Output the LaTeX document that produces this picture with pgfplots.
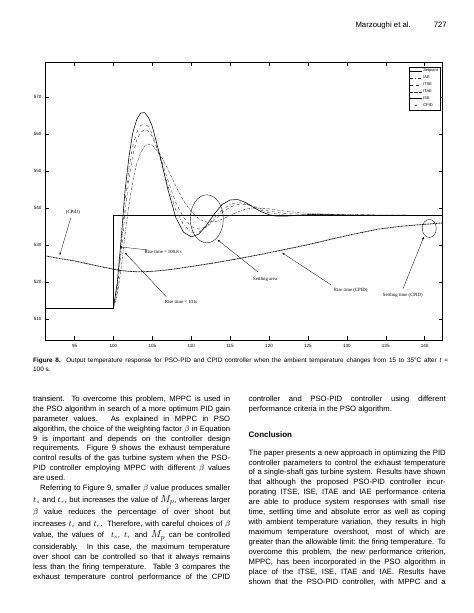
\documentclass[border=0pt]{standalone}
\usepackage{fontspec}
\setmainfont{Liberation Sans}
\newfontfamily\annofont{Liberation Serif}
\usepackage{pgfplots}
\pgfplotsset{compat=1.18}
\usetikzlibrary{arrows.meta}

% one justified line of body text: x, centre y (image px from top), text
\newcommand\jl[3]{\node[anchor=base west,inner sep=0pt,font=\fontsize{7.7}{9.9}\selectfont] at (#1,610.5-#2) {\hbox to 197bp{#3}};}
% plain (last) line
\newcommand\pl[3]{\node[anchor=base west,inner sep=0pt,font=\fontsize{7.7}{9.9}\selectfont] at (#1,610.5-#2) {#3};}
\newcommand\Mp{{\fontsize{10}{10}\selectfont$M_{p}$}}

\begin{document}
\begin{tikzpicture}[x=1bp,y=1bp]
\useasboundingbox (0,0) rectangle (474,613);

% running head
\node[anchor=base east,inner sep=0pt,font=\fontsize{7.8}{9}\selectfont] at (411,585) {Marzoughi et al.};
\node[anchor=base east,inner sep=0pt,font=\fontsize{7.8}{9}\selectfont] at (447,585) {727};

\begin{axis}[
    at={(45bp,272.5bp)}, anchor=south west,
    scale only axis, width=397.5bp, height=278.5bp,
    xmin=91.2, xmax=142.3, ymin=504.2, ymax=579.5,
    xtick={95,100,...,140}, ytick={510,520,...,570},
    tick align=inside, major tick length=4bp,
    axis line style={line width=0.5pt},
    tick style={black,line width=0.4pt},
    ticklabel style={font=\fontsize{4.6}{5}\selectfont},
    /pgf/number format/assume math mode=true,
    /pgf/number format/1000 sep={},
    legend style={at={(rel axis cs:0.994,0.983)}, anchor=north east,
        font=\fontsize{4}{4.5}\selectfont, draw=black, line width=0.3pt,
        inner sep=0.8pt, nodes={inner sep=1.3bp}},
    legend cell align=left,
    legend image code/.code={\draw[#1] (0cm,0cm) -- (0.4cm,0cm);},
]
\addplot[black,line width=0.45pt] coordinates {
    (91.2,513) (100,513) (100,538) (142.3,538)
};
\addlegendentry{Setpoint}

\addplot[black!80,line width=0.4pt,dash dot] coordinates {
    (100,513) (100.5,519) (101,530) (101.5,542) (102,551) (102.5,557)
    (103,560.5) (103.5,562.3) (104,562.8) (104.5,562) (105,560) (106,553.5)
    (107,546) (108,539.5) (109,535.5) (110,533.5) (111,533.5) (112,535)
    (113,537.5) (114,539.5) (115,541) (116,541.5) (117,541.2) (118,540.3)
    (119,539.4) (120,538.7) (122,538.1) (125,538.1) (130,538.1) (142.3,538)
};
\addlegendentry{IAE}

\addplot[black!75,line width=0.4pt,dashed] coordinates {
    (100,513) (100.5,518) (101,528) (101.5,539) (102,548) (102.5,554.5)
    (103,558.5) (103.5,560.5) (104,561.2) (104.5,560.8) (105,559.3) (106,554)
    (107,547.5) (108,541.5) (109,537.5) (110,535) (111,534.3) (112,535)
    (113,536.8) (114,538.8) (115,540.3) (116,541) (117,541) (118,540.5)
    (119,539.8) (120,539.2) (122,538.5) (125,538.3) (130,538.2) (142.3,538)
};
\addlegendentry{ITSE}

\addplot[black!80,line width=0.4pt,dash pattern=on 2.5pt off 1pt on 0.5pt off 1pt] coordinates {
    (100,513) (100.5,516.5) (101,524) (101.5,533) (102,541) (102.5,547.5)
    (103,552) (103.5,555) (104,556.8) (104.5,557.3) (105,557) (106,554.5)
    (107,550.5) (108,546) (109,542) (110,539) (111,537) (112,536.2)
    (113,536.3) (114,537) (115,538) (116,539) (117,539.7) (118,540)
    (119,540) (120,539.8) (122,539.2) (124,538.7) (127,538.4) (130,538.2) (142.3,538)
};
\addlegendentry{ITAE}

\addplot[black,line width=0.55pt] coordinates {
    (100,513) (100.5,520) (101,532) (101.5,545) (102,554) (102.5,560.5)
    (103,564) (103.5,565.7) (104,565.8) (104.5,564.5) (105,562) (106,554)
    (107,545) (108,537.5) (109,533.5) (110,532.2) (111,533) (112,535.5)
    (113,538.5) (114,541) (115,542.2) (116,542.3) (117,541.5) (118,540.2)
    (119,539) (120,538.2) (121,537.8) (122,537.8) (124,538.1) (126,538.3)
    (130,538.1) (135,538) (142.3,538)
};
\addlegendentry{ISE}

\addplot[black,line width=0.8pt,dash pattern=on 1pt off 0.6pt,
    legend image code/.code={\fill (0.2cm,0cm) circle (0.35pt);}] coordinates {
    (91.2,527.1) (93,526.4) (95,525.7) (97,524.8) (99,523.9) (100,523.5)
    (101,523.1) (102,522.9) (103,522.8) (104,522.8) (105,522.9) (107,523.3)
    (110,524.2) (113,525.2) (116,526.3) (119,527.5) (122,528.8) (125,530.1)
    (128,531.6) (131,533) (134,534.3) (137,535.1) (140,535.6) (142.3,536)
};
\addlegendentry{CPID}

% annotations
\begin{scope}[font=\annofont\fontsize{4.8}{5}\selectfont, every node/.style={inner sep=0.5pt}]
\node at (axis cs:94.8,538.9) {(CPID)};
\draw[line width=0.3pt,-{Stealth[length=2.5bp,width=1.8bp]}] (axis cs:94.5,537.3) -- (axis cs:93.1,527.3);
\node at (axis cs:106.4,528.2) {Rise time = 100.8 s};
\draw[line width=0.3pt,-{Stealth[length=2.5bp,width=1.8bp]}] (axis cs:104.4,528.7) -- (axis cs:100.8,529.5);
\node at (axis cs:108.7,514.7) {Rise time = 101s};
\draw[line width=0.3pt,-{Stealth[length=2.5bp,width=1.8bp]}] (axis cs:106.8,516) -- (axis cs:101.5,527.9);
\node at (axis cs:119.5,520.6) {Settling area};
\draw[line width=0.3pt,-{Stealth[length=2.5bp,width=1.8bp]}] (axis cs:118.6,522.7) -- (axis cs:113.4,531.4);
\node at (axis cs:130.5,517.8) {Rise time (CPID)};
\draw[line width=0.3pt,-{Stealth[length=2.5bp,width=1.8bp]}] (axis cs:128.0,519.2) -- (axis cs:121.7,527.9);
\node at (axis cs:137.2,516.5) {Settling time (CPID)};
\draw[line width=0.3pt,-{Stealth[length=2.5bp,width=1.8bp]}] (axis cs:137.2,518.1) -- (axis cs:139.9,532.2);
\end{scope}
\draw[line width=0.35pt] (axis cs:112,537.1) ellipse [x radius=16.5bp, y radius=24bp];
\draw[line width=0.35pt] (axis cs:140.6,534.5) ellipse [x radius=7bp, y radius=9bp];
\end{axis}

% caption
\node[anchor=base west,inner sep=0pt,font=\fontsize{6.4}{8}\selectfont] at (33,610.5-360.2) {\hbox to 415bp{\textbf{Figure 8.} Output temperature response for PSO-PID and CPID controller when the ambient temperature changes from 15 to 35°C after \textit{t} =}};
\node[anchor=base west,inner sep=0pt,font=\fontsize{6.4}{8}\selectfont] at (33,610.5-369.5) {100 s.};

% left column
\jl{33}{399}{transient. To overcome this problem, MPPC is used in}
\jl{33}{408.9}{the PSO algorithm in search of a more optimum PID gain}
\jl{33}{418.8}{parameter values. As explained in MPPC in PSO}
\jl{33}{428.7}{algorithm, the choice of the weighting factor $\beta$ in Equation}
\jl{33}{438.6}{9 is important and depends on the controller design}
\jl{33}{448.5}{requirements. Figure 9 shows the exhaust temperature}
\jl{33}{458.4}{control results of the gas turbine system when the PSO-}
\jl{33}{468.3}{PID controller employing MPPC with different $\beta$ values}
\pl{33}{478.2}{are used.}
\jl{33}{488.1}{\hspace{7bp}Referring to Figure 9, smaller $\beta$ value produces smaller}
\jl{33}{499.9}{$t_{s}$ and $t_{r}$, but increases the value of \Mp, whereas larger}
\jl{33}{511.8}{$\beta$ value reduces the percentage of over shoot but}
\jl{33}{523.6}{increases $t_{s}$ and $t_{r}$. Therefore, with careful choices of $\beta$}
\jl{33}{535.5}{value, the values of \ $t_{s}$, $t_{r}$ and \Mp\ can be controlled}
\jl{33}{547.3}{considerably. In this case, the maximum temperature}
\jl{33}{557.2}{over shoot can be controlled so that it always remains}
\jl{33}{567.1}{less than the firing temperature. Table 3 compares the}
\jl{33}{577}{exhaust temperature control performance of the CPID}

% right column
\jl{248.5}{399}{controller and PSO-PID controller using different}
\pl{248.5}{409}{performance criteria in the PSO algorithm.}
\node[anchor=base west,inner sep=0pt,font=\bfseries\fontsize{8}{10}\selectfont] at (248.5,610.5-435) {Conclusion};
\jl{248.5}{452.7}{The paper presents a new approach in optimizing the PID}
\jl{248.5}{462.6}{controller parameters to control the exhaust temperature}
\jl{248.5}{472.5}{of a single-shaft gas turbine system. Results have shown}
\jl{248.5}{482.4}{that although the proposed PSO-PID controller incur-}
\jl{248.5}{492.3}{porating ITSE, ISE, ITAE and IAE performance criteria}
\jl{248.5}{502.3}{are able to produce system responses with small rise}
\jl{248.5}{512.2}{time, settling time and absolute error as well as coping}
\jl{248.5}{522.1}{with ambient temperature variation, they results in high}
\jl{248.5}{532.0}{maximum temperature overshoot, most of which are}
\jl{248.5}{541.9}{greater than the allowable limit: the firing temperature. To}
\jl{248.5}{551.8}{overcome this problem, the new performance criterion,}
\jl{248.5}{561.8}{MPPC, has been incorporated in the PSO algorithm in}
\jl{248.5}{571.7}{place of the ITSE, ISE, ITAE and IAE. Results have}
\jl{248.5}{581.6}{shown that the PSO-PID controller, with MPPC and a}
\end{tikzpicture}
\end{document}
